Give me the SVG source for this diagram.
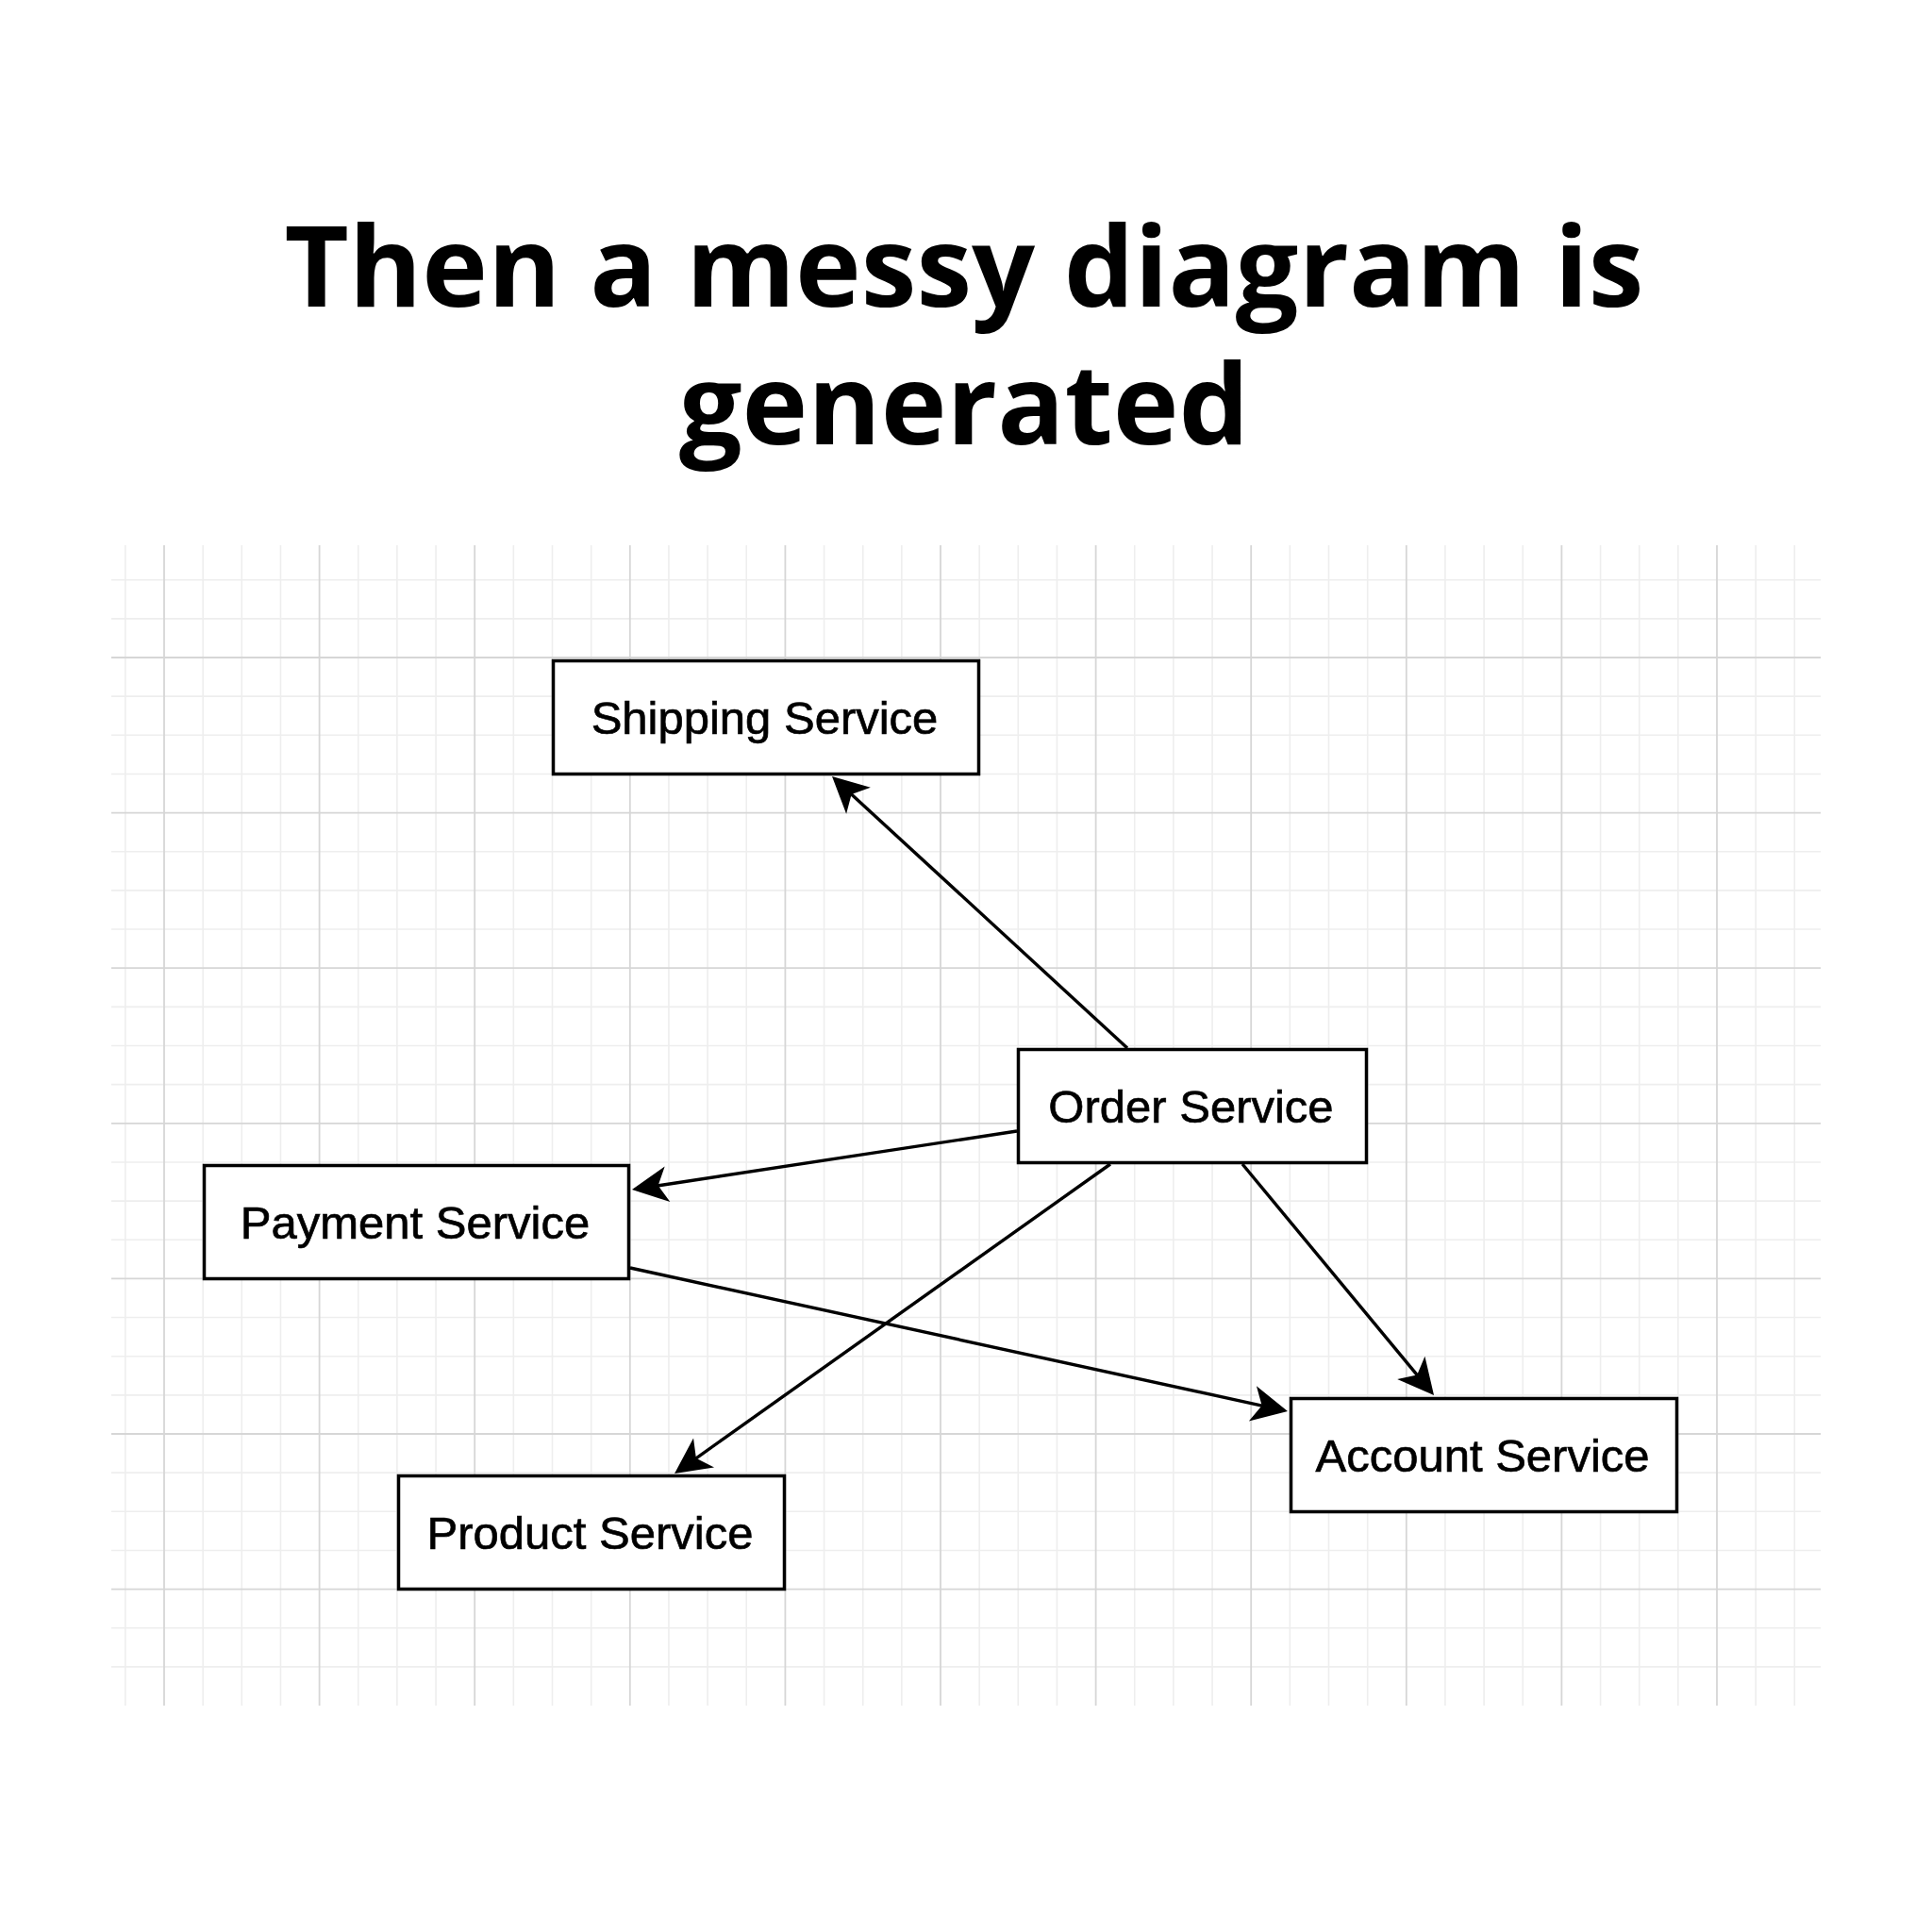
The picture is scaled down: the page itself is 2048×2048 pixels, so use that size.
<svg xmlns="http://www.w3.org/2000/svg" width="2048" height="2048" viewBox="0 0 2048 2048">
<style>
.title{font-family:"Open Sans","Liberation Sans",sans-serif;font-weight:700;font-size:118px;fill:#000;text-anchor:middle}
.box{fill:#fff;stroke:#000;stroke-width:3.5}
.lbl{font-family:"Liberation Sans",Arial,sans-serif;font-size:49px;fill:#000;stroke:#000;stroke-width:0.7;text-anchor:middle}
.minor{stroke:#eeeeee;stroke-width:1.6;fill:none}
.major{stroke:#d6d6d6;stroke-width:1.8;fill:none}
.edge{stroke:#000;stroke-width:3.4;fill:none;marker-end:url(#arr)}
</style>
<defs>
<marker id="arr" markerUnits="userSpaceOnUse" markerWidth="48" markerHeight="48" viewBox="-24 -24 48 48" refX="0" refY="0" orient="auto">
<path d="M22,0 L-16,-19 L-6,0 L-16,19 Z" fill="#000"/>
</marker>
</defs>
<rect width="2048" height="2048" fill="#fff"/>
<g id="title">
<text class="title" x="1022" y="325">Then a messy diagram is</text>
<text class="title" x="1022" y="471">generated</text>
</g>
<g id="grid">
<path class="minor" d="M132.85,578V1808M215.15,578V1808M256.3,578V1808M297.45,578V1808M379.75,578V1808M420.9,578V1808M462.05,578V1808M544.35,578V1808M585.5,578V1808M626.65,578V1808M708.95,578V1808M750.1,578V1808M791.25,578V1808M873.55,578V1808M914.7,578V1808M955.85,578V1808M1038.15,578V1808M1079.3,578V1808M1120.45,578V1808M1202.75,578V1808M1243.9,578V1808M1285.05,578V1808M1367.35,578V1808M1408.5,578V1808M1449.65,578V1808M1531.95,578V1808M1573.1,578V1808M1614.25,578V1808M1696.55,578V1808M1737.7,578V1808M1778.85,578V1808M1861.15,578V1808M1902.3,578V1808 M118,614.7H1930M118,655.85H1930M118,738.15H1930M118,779.3H1930M118,820.45H1930M118,902.75H1930M118,943.9H1930M118,985.05H1930M118,1067.35H1930M118,1108.5H1930M118,1149.65H1930M118,1231.95H1930M118,1273.1H1930M118,1314.25H1930M118,1396.55H1930M118,1437.7H1930M118,1478.85H1930M118,1561.15H1930M118,1602.3H1930M118,1643.45H1930M118,1725.75H1930M118,1766.9H1930"/>
<path class="major" d="M174,578V1808M338.6,578V1808M503.2,578V1808M667.8,578V1808M832.4,578V1808M997,578V1808M1161.6,578V1808M1326.2,578V1808M1490.8,578V1808M1655.4,578V1808M1820,578V1808 M118,697H1930M118,861.6H1930M118,1026.2H1930M118,1190.8H1930M118,1355.4H1930M118,1520H1930M118,1684.6H1930"/>
</g>
<g id="connectors">
<path class="edge" d="M1195,1111L898.2,837.9"/>
<path class="edge" d="M1078,1199L691.7,1257.7"/>
<path class="edge" d="M1177,1234L733,1549.3"/>
<path class="edge" d="M1317,1234L1506,1462.1"/>
<path class="edge" d="M668,1344L1343.5,1491.3"/>
</g>
<g id="shipping">
<rect class="box" x="586.5" y="700.5" width="451" height="120"/>
<text class="lbl" x="810.5" y="778">Shipping Service</text>
</g>
<g id="order">
<rect class="box" x="1079.5" y="1112.5" width="369" height="120"/>
<text class="lbl" x="1262.5" y="1190">Order Service</text>
</g>
<g id="payment">
<rect class="box" x="216.5" y="1235.5" width="450" height="120"/>
<text class="lbl" x="440" y="1313">Payment Service</text>
</g>
<g id="account">
<rect class="box" x="1368.5" y="1482.5" width="409" height="120"/>
<text class="lbl" x="1571.5" y="1560">Account Service</text>
</g>
<g id="product">
<rect class="box" x="422.5" y="1564.5" width="409" height="120"/>
<text class="lbl" x="625.5" y="1642">Product Service</text>
</g>
</svg>
